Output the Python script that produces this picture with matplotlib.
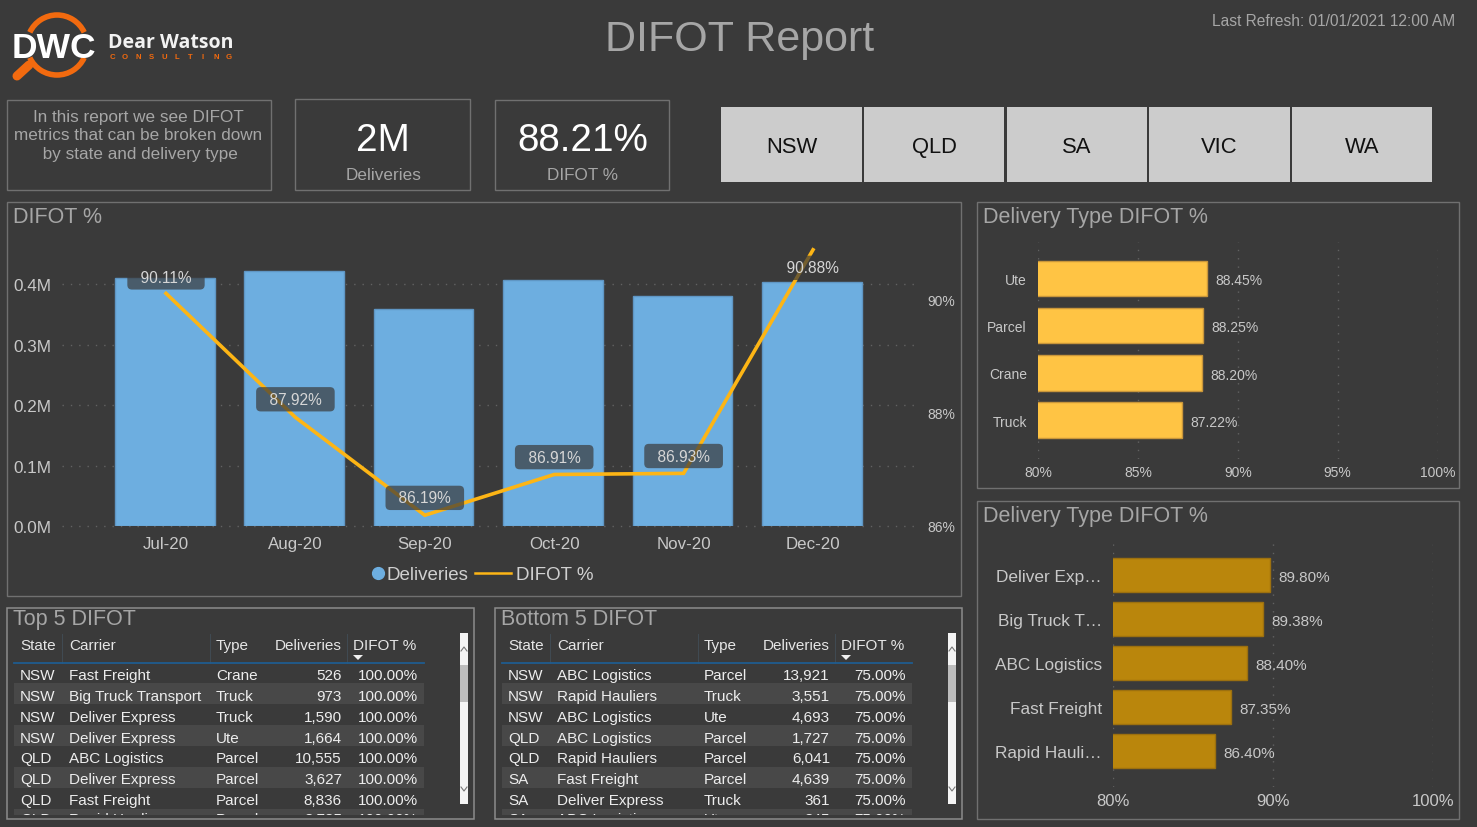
import matplotlib
matplotlib.use("Agg")
import matplotlib.pyplot as plt
from matplotlib.patches import Rectangle, Arc, Polygon
from matplotlib.lines import Line2D
from matplotlib.ticker import FuncFormatter

plt.rcParams['font.family'] = ['Liberation Sans', 'DejaVu Sans']

W, H = 1477, 828
BG = '#3A3A3A'

# ---------- data ----------
months = ['Jul-20', 'Aug-20', 'Sep-20', 'Oct-20', 'Nov-20', 'Dec-20']
deliveries = [0.41, 0.422, 0.36, 0.407, 0.381, 0.404]
difot = [90.11, 87.92, 86.19, 86.91, 86.93, 90.88]

type_names = ['Ute', 'Parcel', 'Crane', 'Truck']
type_values = [88.45, 88.25, 88.20, 87.22]

carrier_names = ['Deliver Exp…', 'Big Truck T…', 'ABC Logistics', 'Fast Freight', 'Rapid Hauli…']
carrier_values = [89.80, 89.38, 88.40, 87.35, 86.40]

states = ['NSW', 'QLD', 'SA', 'VIC', 'WA']
table_cols = ['State', 'Carrier', 'Type', 'Deliveries', 'DIFOT %']

top_rows = [
    ['NSW', 'Fast Freight', 'Crane', '526', '100.00%'],
    ['NSW', 'Big Truck Transport', 'Truck', '973', '100.00%'],
    ['NSW', 'Deliver Express', 'Truck', '1,590', '100.00%'],
    ['NSW', 'Deliver Express', 'Ute', '1,664', '100.00%'],
    ['QLD', 'ABC Logistics', 'Parcel', '10,555', '100.00%'],
    ['QLD', 'Deliver Express', 'Parcel', '3,627', '100.00%'],
    ['QLD', 'Fast Freight', 'Parcel', '8,836', '100.00%'],
    ['QLD', 'Rapid Hauliers', 'Parcel', '3,785', '100.00%'],
]
bottom_rows = [
    ['NSW', 'ABC Logistics', 'Parcel', '13,921', '75.00%'],
    ['NSW', 'Rapid Hauliers', 'Truck', '3,551', '75.00%'],
    ['NSW', 'ABC Logistics', 'Ute', '4,693', '75.00%'],
    ['QLD', 'ABC Logistics', 'Parcel', '1,727', '75.00%'],
    ['QLD', 'Rapid Hauliers', 'Parcel', '6,041', '75.00%'],
    ['SA', 'Fast Freight', 'Parcel', '4,639', '75.00%'],
    ['SA', 'Deliver Express', 'Truck', '361', '75.00%'],
    ['SA', 'ABC Logistics', 'Ute', '345', '75.00%'],
]

# ---------- figure + pixel canvas ----------
fig = plt.figure(figsize=(W / 100, H / 100), dpi=100, facecolor=BG)
cv = fig.add_axes([0, 0, 1, 1], zorder=0)
cv.set_xlim(0, W)
cv.set_ylim(H, 0)
cv.axis('off')


def T(x, y, s, size, color='#C8C8C8', ha='left', va='center', **kw):
    return cv.text(x, y, s, fontsize=size, color=color, ha=ha, va=va, **kw)


def box(x0, y0, x1, y1, ec='#707070', lw=1.0, fc='none', z=1):
    cv.add_patch(Rectangle((x0, y0), x1 - x0, y1 - y0, fc=fc, ec=ec, lw=lw, zorder=z))


def ax_px(x0, y0, x1, y1, z=3):
    a = fig.add_axes([x0 / W, 1 - y1 / H, (x1 - x0) / W, (y1 - y0) / H], zorder=z)
    a.patch.set_alpha(0)
    for s in a.spines.values():
        s.set_visible(False)
    return a


# ---------- logo ----------
ORANGE = '#F26A0F'
for t1, t2 in ((205, 335), (25, 155)):
    cv.add_patch(Arc((57, 46), 60, 60, theta1=t1, theta2=t2, color=ORANGE, lw=4, zorder=2))
cv.plot([29, 17], [66, 77], color=ORANGE, lw=6.5, solid_capstyle='round', zorder=2)
T(54, 48.5, 'DWC', 25.5, 'white', ha='center', fontweight='bold', zorder=3)
T(108, 43, 'Dear Watson', 14, '#F2F2F2', family='Open Sans', fontweight='bold')
for i, ch in enumerate('CONSULTING'):
    T(112 + i * 13.0, 57.5, ch, 5.6, ORANGE, ha='center', fontweight='bold')

# ---------- header ----------
T(740, 39.5, 'DIFOT Report', 31, '#A6A6A6', ha='center')
T(1455, 22, 'Last Refresh: 01/01/2021 12:00 AM', 11.2, '#A6A6A6', ha='right')

# ---------- KPI cards ----------
box(6.5, 100.5, 271, 191)
T(138, 136, 'In this report we see DIFOT\nmetrics that can be broken down\n by state and delivery type', 12.3,
  '#A6A6A6', ha='center', linespacing=1.29, multialignment='center')
box(294.5, 99.5, 470, 191)
T(383, 141, '2M', 27.8, 'white', ha='center')
T(383.5, 176, 'Deliveries', 12.3, '#A6A6A6', ha='center')
box(494.5, 100.5, 669, 191)
T(583, 141, '88.21%', 27.8, 'white', ha='center')
T(582.5, 176, 'DIFOT %', 12.3, '#A6A6A6', ha='center')

# ---------- state buttons ----------
btn_x = [(721, 862), (864, 1004), (1007, 1147), (1149, 1290), (1292, 1432)]
for (x0, x1), s in zip(btn_x, states):
    cv.add_patch(Rectangle((x0, 108), x1 - x0, 75, fc='#CCCCCC', ec='none', zorder=1))
    T((x0 + x1) / 2, 153, s, 15.8, '#111111', ha='center', va='baseline', zorder=2)

# ---------- main combo chart ----------
box(7, 203, 961, 597)
T(13, 217.5, 'DIFOT %', 15.5, '#A6A6A6')

ax = ax_px(62, 240, 918, 527)
xs = list(range(len(months)))
ax.set_xlim((62 - 166) / 129.4, (918 - 166) / 129.4)
ax.set_ylim(0, (527 - 240) / 604)
ax.bar([x - 0.009 for x in xs], deliveries, width=0.769, color='#6DAEE0', edgecolor='#5F96C4', linewidth=1, zorder=2)
ax.set_yticks([0, 0.1, 0.2, 0.3, 0.4])
ax.yaxis.set_major_formatter(FuncFormatter(lambda v, _: f'{v:.1f}M'))
ax.set_xticks(xs)
ax.set_xticklabels(months)
ax.tick_params(axis='y', length=0, labelsize=12.3, labelcolor='#C8C8C8', pad=8)
ax.tick_params(axis='x', length=0, labelsize=12.2, labelcolor='#C8C8C8', pad=7)
ax.grid(axis='y', color='#626262', linestyle=(0, (1, 5)), linewidth=1, zorder=0)
ax.set_axisbelow(True)
for gl in ax.get_ygridlines():
    gl.set_clip_on(False)

ax2 = ax.twinx()
ax2.set_zorder(4)
ax2.patch.set_alpha(0)
for s in ax2.spines.values():
    s.set_visible(False)
ax2.set_ylim(86, 86 + (527 - 240) / 56.6)
ax2.set_yticks([86, 88, 90])
ax2.yaxis.set_major_formatter(FuncFormatter(lambda v, _: f'{v:.0f}%'))
ax2.tick_params(axis='y', length=0, labelsize=10, labelcolor='#C8C8C8', pad=7)
ax2.plot(xs, difot, color='#FDB515', lw=2.6, solid_joinstyle='miter', zorder=3)

label_dy = [11.5, 13, 12.5, 12.5, 12.5, -13]
for x, v, dy in zip(xs, difot, label_dy):
    ax2.annotate(f'\u00a0\u00a0{v:.2f}%\u00a0\u00a0', (x, v), xytext=(0, dy), textcoords='offset points',
                 ha='center', va='center', fontsize=11.2, color='#D6D6D6', zorder=5,
                 bbox=dict(boxstyle='round,pad=0.3,rounding_size=0.3', fc=BG, ec='none', alpha=0.7))

fig.legend([Line2D([], [], marker='o', ls='none', color='#6DAEE0', ms=8.5)], ['Deliveries'],
           loc='center left', frameon=False, bbox_to_anchor=(359 / W, 1 - 575.5 / H), fontsize=13.5,
           labelcolor='#D0D0D0', handlelength=2.0, handletextpad=-0.53, borderpad=0, borderaxespad=0)
fig.legend([Line2D([], [], color='#FDB515', lw=1.8)], ['DIFOT %'],
           loc='center left', frameon=False, bbox_to_anchor=(475 / W, 1 - 575.5 / H), fontsize=13.5,
           labelcolor='#D0D0D0', handlelength=1.92, handletextpad=0.27, borderpad=0, borderaxespad=0)


# ---------- horizontal bar panels ----------
def hbars(rect, names, vals, ticks, color, edge, centre0, step, bar_h, size, tick_size, val_size, gap, pad, dy):
    x0, y0, x1, y1 = rect
    a = ax_px(x0, y0, x1, y1)
    ys = list(range(len(names)))
    a.set_xlim(80, 100)
    a.set_ylim((y1 - centre0) / step, (y0 - centre0) / step)
    a.barh(ys, vals, height=bar_h / step, color=color, edgecolor=edge, linewidth=1, zorder=2)
    a.set_yticks(ys)
    a.set_yticklabels(names)
    a.set_xticks(ticks)
    a.xaxis.set_major_formatter(FuncFormatter(lambda v, _: f'{v:.0f}%'))
    a.tick_params(axis='y', length=0, labelsize=size, labelcolor='#C8C8C8', pad=pad)
    a.tick_params(axis='x', length=0, labelsize=tick_size, labelcolor='#C8C8C8', pad=4.5)
    a.grid(axis='x', color='#626262', linestyle=(0, (1, 5)), linewidth=1, zorder=0)
    a.set_axisbelow(True)
    for y, v in zip(ys, vals):
        a.annotate(f'{v:.2f}%', (v, y), xytext=(gap, dy), textcoords='offset points',
                   ha='left', va='center', fontsize=val_size, color='#C8C8C8', zorder=5)
    return a


box(977, 203, 1459, 489)
T(983, 217.5, 'Delivery Type DIFOT %', 15.5, '#A6A6A6')
hbars((1038, 243, 1437.5, 460), type_names, type_values, [80, 85, 90, 95, 100],
      '#FFC444', '#C9963A', 279.5, 47.2, 35.5, 10, 10, 10, 6, 8, -1.2)

box(977, 502, 1459, 819.5)
T(983, 516.5, 'Delivery Type DIFOT %', 15.5, '#A6A6A6')
hbars((1113, 543, 1433, 788), carrier_names, carrier_values, [80, 90, 100],
      '#BA860C', '#9C700F', 576, 44, 33.5, 12.4, 12, 11, 6, 8, -1.4)


# ---------- tables ----------
def table(dx, title, rows):
    box(7 + dx, 609, 474 + dx, 820, ec='#8C8C8C', lw=1.1)
    T(13 + dx, 620, title, 15.5, '#A6A6A6')
    clip = Rectangle((14 + dx, 634), 410, 182, fc='none', ec='none', zorder=0)
    cv.add_patch(clip)
    row_top = [665, 684, 705, 726, 747, 768, 789, 810]
    row_txt = [676, 697, 718, 739, 759, 780, 801, 820.5]
    for i, (top, ty, r) in enumerate(zip(row_top, row_txt, rows)):
        h = (row_top[i + 1] if i < 7 else 816) - top
        if i % 2 == 1:
            cv.add_patch(Rectangle((14 + dx, top), 410, h, fc='#484848', ec='none', zorder=1))
        for s, hx, ha in zip(r, (20, 69, 216, 342, 418), ('left', 'left', 'left', 'right', 'right')):
            t = T(hx + dx, ty, s, 11, '#EDEDED', ha=ha, zorder=3)
            t.set_clip_on(True)
            t.set_clip_path(clip)
    heads = zip(table_cols, (20, 69, 216, 342, 353), ('left', 'left', 'left', 'right', 'left'))
    for s, hx, ha in heads:
        T(hx + dx, 646, s, 11, '#E6E6E6', ha=ha, zorder=3)
    cv.plot([14 + dx, 424 + dx], [664, 664], color='#1F5C8F', lw=1.3, zorder=3)
    for vx in (62, 210, 347):
        cv.plot([vx + dx, vx + dx], [635, 664], color='#414B53', lw=0.7, zorder=2)
    cv.add_patch(Polygon([(353 + dx, 656), (363 + dx, 656), (358 + dx, 661)], fc='#F0F0F0', ec='none', zorder=3))
    # scrollbar
    cv.add_patch(Rectangle((459.5 + dx, 634), 8.5, 171, fc='#F4F4F4', ec='none', zorder=2))
    cv.add_patch(Rectangle((459.5 + dx, 666), 8.5, 37, fc='#BDBDBD', ec='none', zorder=3))
    cv.plot([461 + dx, 464 + dx, 467 + dx], [652, 648, 652], color='#777777', lw=0.8, zorder=4)
    cv.plot([461 + dx, 464 + dx, 467 + dx], [788, 792, 788], color='#777777', lw=0.8, zorder=4)


table(0, 'Top 5 DIFOT', top_rows)
table(488, 'Bottom 5 DIFOT', bottom_rows)

fig.savefig('out.png', dpi=100, facecolor=BG)
